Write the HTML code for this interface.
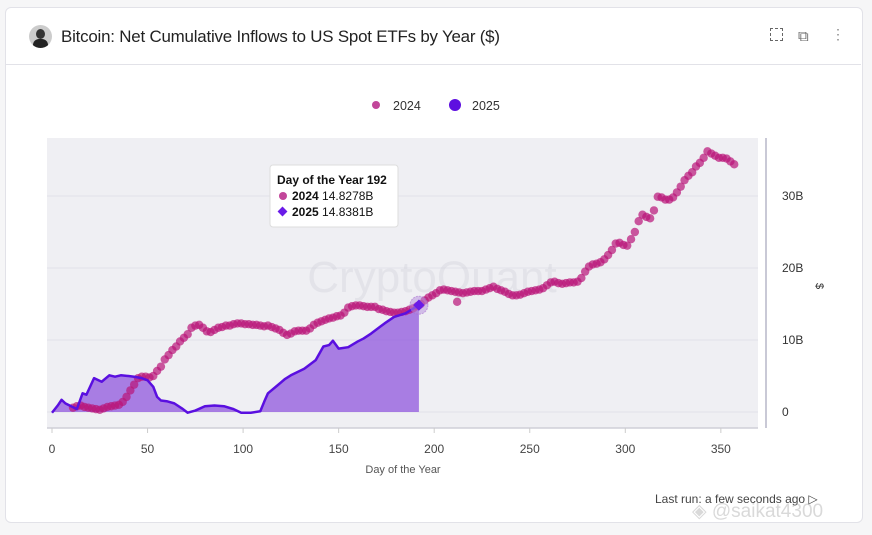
<!DOCTYPE html>
<html><head><meta charset="utf-8"><style>
body{margin:0;width:872px;height:535px;background:#f6f6f7;font-family:"Liberation Sans",sans-serif;position:relative;overflow:hidden}
.card{position:absolute;left:5px;top:7px;width:856px;height:514px;background:#fff;border:1px solid #e2e2e8;border-radius:6px}
.t{position:absolute;white-space:nowrap}
</style></head><body>
<div class="card"></div>
<div class="t" style="left:29px;top:25px;width:23px;height:23px;border-radius:50%;background:#ccc;overflow:hidden"><div style="position:absolute;left:7px;top:4px;width:9px;height:10px;border-radius:50%;background:#333"></div><div style="position:absolute;left:4px;top:14px;width:15px;height:10px;border-radius:6px 6px 0 0;background:#222"></div></div>
<div class="t" style="left:61px;top:27px;font-size:16.9px;color:#222;letter-spacing:-0.2px">Bitcoin: Net Cumulative Inflows to US Spot ETFs by Year ($)</div>
<div class="t" style="left:770px;top:28px;width:13px;height:13px;border:1.5px dashed #666;box-sizing:border-box"></div>
<div class="t" style="left:798px;top:28px;font-size:15px;color:#666">⧉</div>
<div class="t" style="left:831px;top:26px;font-size:14px;color:#888">⋮</div>
<div class="t" style="left:6px;top:64px;width:855px;height:1px;background:#e2e2e8"></div>
<svg id="c" width="872" height="535" style="position:absolute;left:0;top:0"></svg>
<div class="t" style="left:655px;top:492px;font-size:12px;color:#444">Last run: a few seconds ago ▷</div>
<div class="t" style="left:692px;top:500px;font-size:19px;color:rgba(160,160,160,0.4)">◈ @saikat4300</div>
<script>
const days2024=[11,13,15,17,19,21,23,25,27,29,31,33,35,37,39,41,43,45,47,49,51,53,55,57,59,61,63,65,67,69,71,73,75,77,79,81,83,85,87,89,91,93,95,97,99,101,103,105,107,109,111,113,115,117,119,121,123,125,127,129,131,133,135,137,139,141,143,145,147,149,151,153,155,157,159,161,163,165,167,169,171,173,175,177,179,181,183,185,187,189,191,192,193,195,197,199,201,203,205,207,209,211,212,213,215,217,219,221,223,225,227,229,231,233,235,237,239,241,243,245,247,249,251,253,255,257,259,261,263,265,267,269,271,273,275,277,279,281,283,285,287,289,291,293,295,297,299,301,303,305,307,309,311,313,315,317,319,321,323,325,327,329,331,333,335,337,339,341,343,345,347,349,351,353,355,357];
const vals2024=[0.6,0.8,0.9,0.7,0.6,0.5,0.4,0.3,0.5,0.7,0.8,0.9,1.0,1.4,2.1,3.0,3.8,4.7,4.9,4.9,4.8,5.0,5.7,6.3,7.3,7.9,8.6,9.1,9.8,10.3,10.8,11.7,12.0,12.1,11.7,11.2,11.1,11.4,11.7,11.8,12.0,12.0,12.2,12.3,12.3,12.2,12.2,12.1,12.1,12.0,11.9,12.0,11.8,11.6,11.4,11.0,10.7,10.9,11.2,11.3,11.3,11.3,11.6,12.1,12.4,12.6,12.8,13.0,13.1,13.3,13.4,13.8,14.5,14.7,14.8,14.8,14.7,14.6,14.6,14.6,14.3,14.2,14.0,13.9,13.8,13.8,13.9,14.0,14.2,14.4,14.7,14.83,15.0,15.5,15.9,16.2,16.5,16.9,17.0,16.9,16.8,16.7,15.3,16.6,16.5,16.6,16.7,16.8,16.8,16.8,17.0,17.2,17.4,17.1,16.9,16.7,16.4,16.2,16.2,16.3,16.5,16.7,16.8,16.9,17.0,17.2,17.6,18.0,18.1,17.9,17.8,17.9,18.0,18.0,18.1,18.6,19.5,20.2,20.5,20.6,20.8,21.2,21.8,22.5,23.4,23.5,23.2,23.1,24.0,25.0,26.5,27.4,27.1,26.9,28.0,29.9,29.8,29.5,29.5,29.8,30.5,31.3,32.2,32.8,33.3,34.1,34.6,35.3,36.2,35.9,35.6,35.3,35.3,35.2,34.8,34.4];
const days2025=[0,3,5,7,10,13,16,18,22,26,30,33,36,40,43,47,50,53,55,57,60,64,68,71,75,80,85,90,95,99,104,109,111,113,118,122,125,132,138,142,145,147,150,155,160,163,167,174,179,185,192];
const vals2025=[-0.1,0.9,1.7,1.2,0.8,0.4,2.6,2.4,4.7,4.2,5.1,4.9,5.1,5.0,4.9,4.7,4.4,3.5,2.1,1.6,1.5,1.2,0.5,-0.1,0.2,0.8,0.9,0.8,0.4,-0.1,-0.1,0.1,1.4,2.6,3.7,4.6,5.1,6.0,7.2,9.1,9.3,9.9,8.8,9.0,9.8,10.2,10.9,12.3,13.2,13.7,14.84];
const yTicks=[0,10,20,30];
const yTickLabels=["0","10B","20B","30B"];
const xTicks=[0,50,100,150,200,250,300,350];
const X=d=>52+d*1.911, Y=v=>412-v*7.2;
const svg=document.getElementById('c');const NS='http://www.w3.org/2000/svg';
function mk(t,a,p){const e=document.createElementNS(NS,t);for(const k in a)e.setAttribute(k,a[k]);(p||svg).appendChild(e);return e;}
let e;
e=mk('rect',{x:47,y:138,width:711,height:290,fill:'#efeff3'});


e=mk('line',{x1:766,y1:138,x2:766,y2:428,stroke:'#c9c9d6','stroke-width':2});


e=mk('line',{x1:47,y1:428,x2:758,y2:428,stroke:'#cfcfd8','stroke-width':1.5});


yTicks.forEach((v,i)=>{
 e=mk('line',{x1:47,x2:758,y1:Y(v),y2:Y(v),stroke:'#e2e2ea'});
 
 
 e=mk('text',{x:782,y:Y(v)+4,'font-size':12,fill:'#333'});e.textContent=yTickLabels[i];
 
 
});
xTicks.forEach(d=>{
 e=mk('line',{x1:X(d),x2:X(d),y1:428,y2:433,stroke:'#ccc'});
 
 
 e=mk('text',{x:X(d),y:453,'font-size':12,fill:'#444','text-anchor':'middle'});e.textContent=d;
 
 
});
e=mk('text',{x:403,y:473,'font-size':11,fill:'#555','text-anchor':'middle'});e.textContent='Day of the Year';


e=mk('text',{x:816,y:283,'font-size':11,fill:'#333',transform:'rotate(90 816 283)'});e.textContent='$';


e=mk('text',{x:432,y:292,'font-size':44,fill:'rgba(205,205,215,0.35)','text-anchor':'middle'});e.textContent='CryptoQuant';


let pts=days2025.map((d,i)=>X(d)+','+Y(vals2025[i])).join(' ');
e=mk('polygon',{points:X(days2025[0])+','+Y(0)+' '+pts+' '+X(days2025[days2025.length-1])+','+Y(0),fill:'rgba(140,80,220,0.72)'});


days2024.forEach((d,i)=>{
 e=mk('circle',{cx:X(d),cy:Y(vals2024[i]),r:4.2,fill:'rgba(185,20,120,0.7)'});
 
 
});
e=mk('polyline',{points:pts,fill:'none',stroke:'#5a0fe0','stroke-width':2.5,'stroke-linejoin':'round'});


const hi=days2024.indexOf(192);
e=mk('circle',{cx:X(192),cy:Y(vals2024[hi]),r:9,fill:'rgba(180,140,220,0.5)',stroke:'rgba(170,110,210,0.6)','stroke-dasharray':'2 1'});


const hx=X(192),hy=Y(vals2025[vals2025.length-1]);
e=mk('rect',{x:hx-4,y:hy-4,width:8,height:8,fill:'#6a1be8',transform:`rotate(45 ${hx} ${hy})`});


e=mk('circle',{cx:376,cy:105,r:4,fill:'#c2469a'});


e=mk('text',{x:393,y:110,'font-size':12.5,fill:'#333'});e.textContent='2024';


e=mk('circle',{cx:455,cy:105,r:6,fill:'#5e0fe0'});


e=mk('text',{x:472,y:110,'font-size':12.5,fill:'#333'});e.textContent='2025';


const g=mk('g',{});


mk('rect',{x:270,y:165,width:128,height:62,rx:3,fill:'#fff',stroke:'#ddd'},g);
e=mk('text',{x:277,y:184,'font-size':12,'font-weight':'bold',fill:'#111'},g);e.textContent='Day of the Year 192';
mk('circle',{cx:283,cy:196,r:4,fill:'#c2469a'},g);
e=mk('text',{x:292,y:200,'font-size':12,fill:'#111'},g);e.innerHTML='<tspan font-weight="bold">2024</tspan>   14.8278B';
mk('rect',{x:279,y:208,width:7,height:7,fill:'#6a1be8',transform:'rotate(45 282.5 211.5)'},g);
e=mk('text',{x:292,y:216,'font-size':12,fill:'#111'},g);e.innerHTML='<tspan font-weight="bold">2025</tspan>   14.8381B';
</script>
</body></html>
